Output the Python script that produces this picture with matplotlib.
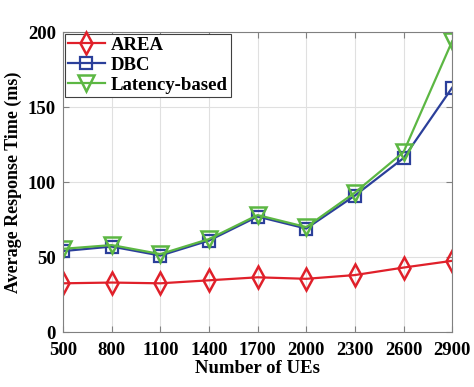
#!/usr/bin/env python3
import matplotlib
matplotlib.use('Agg')
import matplotlib.pyplot as plt

ues = [500, 800, 1100, 1400, 1700, 2000, 2300, 2600, 2900]
area = [32.5, 33, 32.5, 34.5, 36.5, 35.5, 38, 43, 47.5]
dbc = [54, 57, 51, 61, 77, 69, 91, 116, 163]
latency = [55.5, 58, 52, 62, 78, 70, 93, 120, 194]

plt.rcParams['font.family'] = ['Liberation Serif', 'DejaVu Serif']
plt.rcParams['font.weight'] = 'bold'

fig = plt.figure(figsize=(4.74, 3.87), dpi=100)
ax = fig.add_axes([0.133, 0.142, 0.821, 0.775])

ax.plot(ues, area, color='#e0202a', marker='d', markersize=11, markerfacecolor='none',
        markeredgewidth=1.8, linewidth=1.6, label='AREA')
ax.plot(ues, dbc, color='#2b3f9a', marker='s', markersize=8, markerfacecolor='none',
        markeredgewidth=1.6, linewidth=1.6, label='DBC')
ax.plot(ues, latency, color='#5cb743', marker='v', markersize=12, markerfacecolor='none',
        markeredgewidth=1.8, linewidth=1.6, label='Latency-based')

ax.set_xlim(500, 2900)
ax.set_ylim(0, 200)
ax.set_xticks(ues)
ax.set_yticks([0, 50, 100, 150, 200])
ax.grid(True, color='#e0e0e0', linewidth=0.8)
ax.tick_params(direction='in', top=True, right=True, labelsize=13.5, color='#808080', length=4)
ax.tick_params(axis='x', pad=7)
ax.tick_params(axis='y', pad=5)
for lbl in ax.get_xticklabels() + ax.get_yticklabels():
    lbl.set_fontweight('bold')
for s in ax.spines.values():
    s.set_color('#808080')

ax.set_xlabel('Number of UEs', fontsize=13.5, fontweight='bold', labelpad=1)
ax.set_ylabel('Average Response Time (ms)', fontsize=13, fontweight='bold', labelpad=4)

leg = ax.legend(loc='upper left', fontsize=13.5, fancybox=False, framealpha=1,
                edgecolor='#404040', borderaxespad=0.1, handlelength=2.0,
                handletextpad=0.3, labelspacing=0.15, borderpad=0.15)
leg.get_frame().set_linewidth(0.8)
for t in leg.get_texts():
    t.set_fontweight('bold')

fig.savefig('out.png', dpi=100)
